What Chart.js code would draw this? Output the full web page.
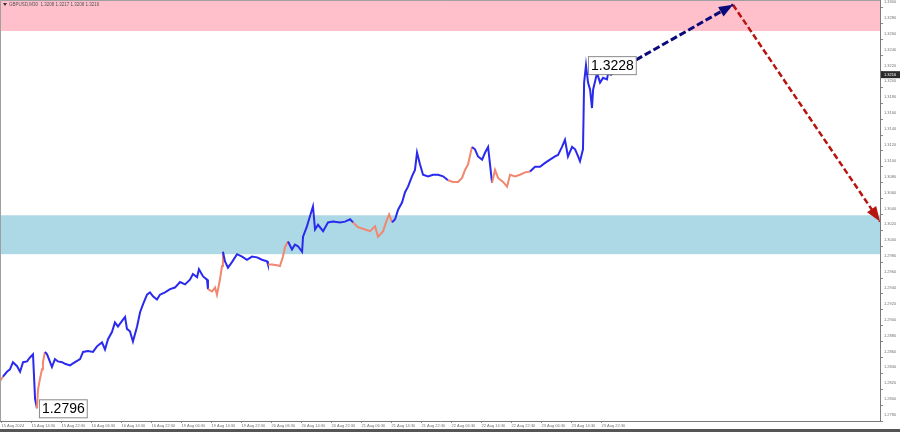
<!DOCTYPE html>
<html>
<head>
<meta charset="utf-8">
<script src="https://cdn.jsdelivr.net/npm/chart.js@4.4.1/dist/chart.umd.min.js"></script>
<style>
  html, body { margin: 0; padding: 0; background: #fff; }
  #wrap { width: 900px; height: 432px; position: relative; }
</style>
</head>
<body>
<div id="wrap"><canvas id="wave-chart"></canvas></div>
<script>
// Подписи оси времени (каждые 16 баров M30)
const tickLabels = ['15 Aug 2024', '15 Aug 14:30', '15 Aug 22:30', '16 Aug 06:30', '16 Aug 14:30', '16 Aug 22:30',
  '19 Aug 06:30', '19 Aug 14:30', '19 Aug 22:30', '20 Aug 06:30', '20 Aug 14:30', '20 Aug 22:30',
  '21 Aug 06:30', '21 Aug 14:30', '21 Aug 22:30', '22 Aug 06:30', '22 Aug 14:30', '22 Aug 22:30',
  '23 Aug 06:30', '23 Aug 14:30', '23 Aug 22:30'];
const tickBars = [0, 16, 32, 48, 64, 80, 96, 112, 128, 144, 160, 176, 192, 208, 224, 240, 256, 272, 288, 304, 320];

// Уровни цены справа
const priceTicks = [1.2780, 1.2800, 1.2820, 1.2840, 1.2860, 1.2880, 1.2900, 1.2920, 1.2940, 1.2960,
  1.2980, 1.3000, 1.3020, 1.3040, 1.3060, 1.3080, 1.3100, 1.3120, 1.3140, 1.3160,
  1.3180, 1.3200, 1.3220, 1.3240, 1.3260, 1.3280, 1.3300];

// Ход цены GBPUSD (номер бара / цена)
const waveBars = [-0.8, 0.8, 2.9, 4.5, 6.1, 8.3, 9.9, 11.5, 13.6, 15.2, 16.8, 17.9, 18.9, 19.5, 20.5, 21.6, 22.1, 23.2,
  24.3, 25.9, 26.9, 28.5, 30.1, 32.3, 33.9, 36.5, 39.2, 41.9, 43.5, 46.1, 48.8, 50.9, 53.6, 55.2, 56.8, 58.9,
  60.5, 62.1, 64.3, 65.9, 66.9, 68.5, 70.1, 72.3, 73.9, 75.5, 77.6, 79.2, 80.8, 82.9, 84.5, 87.2, 89.9, 92.5,
  95.2, 97.9, 100.5, 102.1, 104.3, 105.3, 107.5, 109.6, 110.1, 112.3, 113.9, 114.9, 116.5, 117.6, 118.1, 119.2,
  120.8, 122.9, 125.6, 128.3, 130.9, 133.6, 136.3, 138.9, 141.6, 142.1, 144.3, 146.9, 148.5, 150.1, 151.2, 152.8,
  154.9, 156.5, 158.1, 160.3, 160.8, 162.9, 163.5, 166.1, 167.2, 168.8, 171.5, 174.1, 176.8, 180.5, 183.2, 185.9,
  187.5, 190.1, 193.9, 196.5, 199.2, 200.8, 203.5, 205.6, 206.7, 208.3, 209.9, 211.5, 213.6, 215.2, 216.8, 218.9,
  220.5, 221.6, 223.2, 224.8, 227.5, 230.1, 232.8, 235.5, 238.1, 240.8, 243.5, 245.6, 247.2, 248.8, 250.9, 252.5,
  254.1, 256.3, 257.9, 259.5, 261.6, 263.2, 264.8, 267.5, 269.6, 271.2, 273.9, 276.5, 279.2, 281.9, 284.5, 287.2,
  289.9, 292.5, 295.2, 296.8, 298.9, 300.5, 302.1, 304.3, 305.9, 307.5, 308.5, 310.1, 310.4, 310.7, 311.7, 312.8,
  313.9, 314.9, 315.5, 317.6, 319.2, 320.8, 322.9, 323.5, 324.5];
const wavePrices = [1.2830, 1.2836, 1.2842, 1.2845, 1.2854, 1.2849, 1.2842, 1.2854, 1.2855, 1.2860, 1.2864, 1.2808, 1.2796, 1.2820, 1.2833, 1.2845, 1.2854, 1.2867,
  1.2864, 1.2854, 1.2848, 1.2858, 1.2855, 1.2854, 1.2852, 1.2850, 1.2854, 1.2858, 1.2867, 1.2868, 1.2867, 1.2874, 1.2879, 1.2870, 1.2883, 1.2892,
  1.2904, 1.2899, 1.2906, 1.2911, 1.2896, 1.2893, 1.2880, 1.2899, 1.2917, 1.2927, 1.2939, 1.2942, 1.2937, 1.2933, 1.2939, 1.2942, 1.2946, 1.2948,
  1.2955, 1.2952, 1.2958, 1.2965, 1.2961, 1.2971, 1.2962, 1.2958, 1.2946, 1.2943, 1.2948, 1.2939, 1.2958, 1.2975, 1.2993, 1.2981,
  1.2973, 1.2980, 1.2990, 1.2987, 1.2983, 1.2987, 1.2986, 1.2983, 1.2981, 1.2977, 1.2977, 1.2976, 1.2975, 1.2987, 1.2999, 1.3006,
  1.2996, 1.3002, 1.3000, 1.2993, 1.3012, 1.3025, 1.3030, 1.3050, 1.3021, 1.3027, 1.3019, 1.3030, 1.3031, 1.3030, 1.3031, 1.3034,
  1.3030, 1.3024, 1.3021, 1.3019, 1.3025, 1.3012, 1.3019, 1.3034, 1.3040, 1.3030, 1.3034, 1.3046, 1.3055, 1.3068, 1.3075, 1.3088,
  1.3096, 1.3118, 1.3103, 1.3090, 1.3088, 1.3090, 1.3090, 1.3088, 1.3083, 1.3081, 1.3081, 1.3086, 1.3096, 1.3103, 1.3125, 1.3122,
  1.3113, 1.3109, 1.3118, 1.3125, 1.3080, 1.3096, 1.3086, 1.3081, 1.3075, 1.3090, 1.3088, 1.3090, 1.3093, 1.3094, 1.3100, 1.3100,
  1.3105, 1.3109, 1.3113, 1.3115, 1.3125, 1.3134, 1.3113, 1.3125, 1.3122, 1.3113, 1.3107, 1.3122, 1.3163, 1.3206, 1.3228, 1.3206,
  1.3197, 1.3174, 1.3197, 1.3218, 1.3206, 1.3212, 1.3210, 1.3218, 1.3216];

// Участки коррекции (рисуются лососевым цветом)
const salmonRanges = [[-0.8, 0.8], [18.9, 23.2], [110.1, 118.1], [142.1, 152.8], [187.5, 208.3], [238.1, 250.9], [261.6, 281.9]];

// Прогноз: рост к зоне сопротивления, затем снижение к зоне поддержки
const forecastUpBars = [324.5, 390.1];
const forecastUpPrices = [1.3216, 1.3304];
const forecastDownBars = [390.1, 468.5];
const forecastDownPrices = [1.3304, 1.3031];

// Зоны
const sellZone = [1.3271, 1.3310];
const buyZone = [1.2990, 1.3039];

// Отмеченные экстремумы
const markBars = [18.9, 311.7];
const markPrices = [1.2796, 1.3228];

const headerText = 'GBPUSD,M30  1.3208 1.3217 1.3208 1.3216';
const lastPrice = 1.3216;

const BLUE = '#2a2aee';
const SALMON = '#f2866e';

function inSalmon(a, b) {
  return salmonRanges.some(r => a >= r[0] - 0.01 && b <= r[1] + 0.01);
}

function arrowHead(ctx, x1, y1, x2, y2, len, half, color) {
  const ang = Math.atan2(y2 - y1, x2 - x1);
  ctx.save();
  ctx.fillStyle = color;
  ctx.beginPath();
  ctx.moveTo(x2, y2);
  ctx.lineTo(x2 - len * Math.cos(ang) + half * Math.sin(ang), y2 - len * Math.sin(ang) - half * Math.cos(ang));
  ctx.lineTo(x2 - len * Math.cos(ang) - half * Math.sin(ang), y2 - len * Math.sin(ang) + half * Math.cos(ang));
  ctx.closePath();
  ctx.fill();
  ctx.restore();
}

// Зоны под графиком
const zonesPlugin = {
  id: 'zones',
  beforeDatasetsDraw(chart) {
    const { ctx, chartArea: a, scales: { y } } = chart;
    ctx.save();
    ctx.beginPath();
    ctx.rect(a.left, a.top, a.right - a.left, a.bottom - a.top);
    ctx.clip();
    ctx.fillStyle = '#ffc0cb';
    let t = y.getPixelForValue(sellZone[1]), b = y.getPixelForValue(sellZone[0]);
    ctx.fillRect(a.left, t, a.right - a.left, b - t);
    ctx.fillStyle = '#add8e6';
    t = y.getPixelForValue(buyZone[1]);
    b = y.getPixelForValue(buyZone[0]);
    ctx.fillRect(a.left, t, a.right - a.left, b - t);
    ctx.restore();
  }
};

// Подписи, стрелки, рамка
const overlayPlugin = {
  id: 'overlay',
  afterDraw(chart) {
    const { ctx, chartArea: a, scales: { x, y } } = chart;

    // наконечники стрелок
    arrowHead(ctx, x.getPixelForValue(forecastUpBars[0]), y.getPixelForValue(forecastUpPrices[0]),
      x.getPixelForValue(forecastUpBars[1]), y.getPixelForValue(forecastUpPrices[1]), 14, 5.5, '#0a0a7a');
    arrowHead(ctx, x.getPixelForValue(forecastDownBars[0]), y.getPixelForValue(forecastDownPrices[0]),
      x.getPixelForValue(forecastDownBars[1]), y.getPixelForValue(forecastDownPrices[1]), 15, 5.5, '#b8140e');

    // метки экстремумов
    ctx.save();
    ctx.font = '14px "Liberation Sans"';
    ctx.textBaseline = 'middle';
    markBars.forEach((bar, i) => {
      const px = x.getPixelForValue(bar) + 2;
      const py = y.getPixelForValue(markPrices[i]);
      const txt = markPrices[i].toFixed(4);
      const w = ctx.measureText(txt).width + 5;
      ctx.fillStyle = '#ffffff';
      ctx.fillRect(px, py - 9, w, 18);
      ctx.strokeStyle = '#8a8a8a';
      ctx.lineWidth = 1;
      ctx.strokeRect(px + 0.5, py - 8.5, w, 18);
      ctx.fillStyle = '#000';
      ctx.fillText(txt, px + 3, py + 1);
    });
    ctx.restore();

    // рамка
    ctx.save();
    ctx.strokeStyle = '#a0a0a0';
    ctx.lineWidth = 1;
    ctx.beginPath();
    ctx.moveTo(0.5, a.bottom);
    ctx.lineTo(0.5, 0.5);
    ctx.lineTo(a.right, 0.5);
    ctx.stroke();
    ctx.strokeStyle = '#7a7a7a';
    ctx.beginPath();
    ctx.moveTo(0, a.bottom + 0.5);
    ctx.lineTo(a.right + 0.5, a.bottom + 0.5);
    ctx.lineTo(a.right + 0.5, 0);
    ctx.stroke();
    ctx.restore();

    // текущая цена на оси
    ctx.save();
    const ly = y.getPixelForValue(lastPrice);
    ctx.fillStyle = '#2b2b2b';
    ctx.fillRect(a.right + 1, ly - 3.5, 19, 7);
    ctx.fillStyle = '#ffffff';
    ctx.font = '4px "Liberation Sans"';
    ctx.textBaseline = 'middle';
    ctx.fillText(lastPrice.toFixed(4), a.right + 4, ly);
    ctx.restore();

    // заголовок
    ctx.save();
    ctx.fillStyle = '#333';
    ctx.beginPath();
    ctx.moveTo(3, 3);
    ctx.lineTo(7, 3);
    ctx.lineTo(5, 6);
    ctx.closePath();
    ctx.fill();
    ctx.fillStyle = '#555';
    ctx.font = '4.5px "Liberation Sans"';
    ctx.textBaseline = 'middle';
    ctx.fillText(headerText, 9, 4.5);
    ctx.restore();

    // нижняя полоса
    ctx.save();
    ctx.fillStyle = '#555';
    ctx.fillRect(0, 429, 900, 3);
    ctx.restore();
  }
};

const waveData = waveBars.map((b, i) => ({ x: b, y: wavePrices[i] }));
const upData = forecastUpBars.map((b, i) => ({ x: b, y: forecastUpPrices[i] }));
const downData = forecastDownBars.map((b, i) => ({ x: b, y: forecastDownPrices[i] }));

const config = {
  type: 'line',
  data: {
    datasets: [
      {
        data: waveData,
        borderColor: BLUE,
        borderWidth: 2,
        pointRadius: 0,
        tension: 0,
        segment: {
          borderColor: c => inSalmon(c.p0.parsed.x, c.p1.parsed.x) ? SALMON : BLUE
        }
      },
      {
        data: upData,
        borderColor: '#0a0a7a',
        borderWidth: 3,
        borderDash: [7, 3],
        pointRadius: 0
      },
      {
        data: downData,
        borderColor: '#b8140e',
        borderWidth: 2.5,
        borderDash: [6, 3],
        pointRadius: 0,
        clip: false
      }
    ]
  },
  options: {
    responsive: true,
    maintainAspectRatio: false,
    animation: false,
    devicePixelRatio: 1,
    layout: { padding: 0 },
    plugins: { legend: { display: false }, tooltip: { enabled: false } },
    scales: {
      x: {
        type: 'linear',
        min: -0.8,
        max: 468.5,
        afterBuildTicks: s => { s.ticks = tickBars.map(v => ({ value: v })); },
        afterFit: s => { s.height = 11; s.paddingLeft = 0; s.paddingRight = 0; },
        ticks: {
          autoSkip: false,
          maxRotation: 0,
          align: 'start',
          padding: 0,
          color: '#707070',
          font: { family: 'Liberation Sans', size: 4 },
          callback: (v, i) => tickLabels[i]
        },
        grid: { drawOnChartArea: false, tickLength: 2, color: '#888' },
        border: { display: false }
      },
      y: {
        position: 'right',
        min: 1.2780,
        max: 1.3310,
        afterBuildTicks: s => { s.ticks = priceTicks.map(v => ({ value: v })); },
        afterFit: s => { s.width = 20; s.paddingTop = 0; s.paddingBottom = 0; },
        ticks: {
          padding: 1,
          labelOffset: -6,
          color: '#707070',
          font: { family: 'Liberation Sans', size: 4 },
          callback: v => v.toFixed(4)
        },
        grid: { drawOnChartArea: false, tickLength: 3, color: '#888' },
        border: { display: false }
      }
    }
  },
  plugins: [zonesPlugin, overlayPlugin]
};

const waveChart = new Chart(document.getElementById('wave-chart'), config);
</script>
</body>
</html>
